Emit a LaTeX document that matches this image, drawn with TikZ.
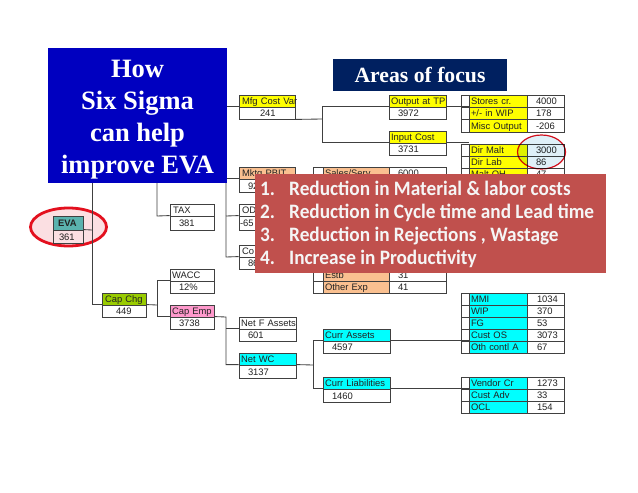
\documentclass[tikz,border=0pt]{standalone}
\usepackage{fontspec}
\usetikzlibrary{shapes.geometric}
\setmainfont{Liberation Sans}
\newfontfamily\titlefont{Liberation Serif}
\newfontfamily\listfont[FakeStretch=0.94]{Carlito}
\definecolor{cline}{HTML}{404040}
\definecolor{ctext}{HTML}{222222}
\definecolor{cyel}{HTML}{FFFF00}
\definecolor{corg}{HTML}{FAC090}
\definecolor{ccy}{HTML}{00FFFF}
\definecolor{cgrn}{HTML}{99CC00}
\definecolor{cpnk}{HTML}{FF99CC}
\definecolor{cteal}{HTML}{5AB2AE}
\definecolor{cblue}{HTML}{0000C0}
\definecolor{cnavy}{HTML}{002060}
\definecolor{cred}{HTML}{C0504D}
\definecolor{cring}{HTML}{E3101E}
\definecolor{cpale}{HTML}{FBDFE2}
\definecolor{cice}{HTML}{DFF0F8}
\tikzset{
  cellbox/.style={draw=cline,line width=.85pt,inner xsep=0pt,inner ysep=0pt,text=ctext,
    font=\fontsize{9.4}{10}\selectfont,align=left,text height=7.5pt,text depth=.5pt},
  wire/.style={draw=cline,line width=.85pt},
  titlebox/.style={text=white,font=\titlefont\bfseries,align=center,inner sep=0pt},
  listitem/.style={text=white!96!black,font=\listfont\bfseries\fontsize{20.5}{24}\selectfont,anchor=base west,inner sep=0pt},
}
% name, x, y, w, h, fill, inset, text
\newcommand\cellat[8]{%
  \pgfmathsetmacro\cw{#4}\pgfmathsetmacro\cx{#2+#4/2}\pgfmathsetmacro\cy{#3+#5/2}%
  \node[cellbox,fill=#6,minimum height=#5pt,text width=\cw pt] (#1) at (\cx,\cy) {\hspace*{#7pt}\mbox{#8}};%
}
\begin{document}
\begin{tikzpicture}[x=1pt,y=-1pt]
\useasboundingbox (0,0) rectangle (638,493);
\fill[white] (0,0) rectangle (638,493);
% EVA, ring behind
\node[draw=cring,line width=2.8pt,fill=cpale,ellipse,minimum width=76pt,minimum height=38pt,inner sep=0pt] (ringA) at (68.5,227) {};
\cellat{evaL}{53}{216}{30}{14}{cteal}{5}{\textbf{EVA}}
\cellat{evaV}{53}{230}{30}{13}{cpale}{6}{361}
% second level
\cellat{taxL}{170}{204}{44}{12}{white}{3}{TAX}
\cellat{taxV}{170}{216}{44}{14}{white}{9}{381}
\cellat{waccL}{170}{269}{44}{12}{white}{2}{WACC}
\cellat{waccV}{170}{281}{44}{12}{white}{9}{12\%}
\cellat{chgL}{102}{293}{44}{12}{cgrn}{3}{Cap Chg}
\cellat{chgV}{102}{305}{44}{12}{white}{14}{449}
\cellat{empL}{170}{305}{44}{12}{cpnk}{2}{Cap Emp}
\cellat{empV}{170}{317}{44}{12}{white}{9}{3738}
% third level
\cellat{mfgL}{239}{95}{56}{12}{cyel}{3}{Mfg Cost Var}
\cellat{mfgV}{239}{107}{56}{12}{white}{21}{241}
\cellat{mktL}{239}{167}{56}{12}{corg}{3}{Mktg PBIT}
\cellat{mktV}{239}{179}{56}{13}{white}{9}{92}
\cellat{odL}{239}{204}{56}{12}{white}{3}{OD}
\cellat{odV}{239}{216}{56}{14}{white}{1}{-65}
\cellat{coL}{239}{245}{56}{12}{white}{3}{Co}
\cellat{coV}{239}{257}{56}{12}{white}{9}{86}
\cellat{nfaL}{239}{317}{57}{12}{white}{2}{Net F Assets}
\cellat{nfaV}{239}{329}{57}{12}{white}{9}{601}
\cellat{nwcL}{239}{353}{57}{12}{ccy}{2}{Net WC}
\cellat{nwcV}{239}{365}{57}{13}{white}{9}{3137}
% fourth level
\cellat{outL}{389}{95}{57}{12}{cyel}{2}{Output at TP}
\cellat{outV}{389}{107}{57}{12}{white}{9}{3972}
\cellat{inL}{389}{131}{57}{12}{cyel}{2}{Input Cost}
\cellat{inV}{389}{143}{57}{12}{white}{9}{3731}
\cellat{caL}{323}{329}{67}{12}{ccy}{2}{Curr Assets}
\cellat{caV}{323}{341}{67}{12}{white}{9}{4597}
\cellat{clL}{323}{377}{67}{12}{ccy}{2}{Curr Liabilities}
\cellat{clV}{323}{389}{67}{13}{white}{9}{1460}
% sales table
\cellat{s1A}{313}{167}{10}{12}{white}{0}{}
\cellat{s1L}{323}{167}{66}{12}{corg}{2}{Sales/Serv}
\cellat{s1V}{389}{167}{57}{12}{white}{9}{6000}
\cellat{s2A}{313}{269}{10}{12}{white}{0}{}
\cellat{s2L}{323}{269}{66}{12}{corg}{2}{Estb}
\cellat{s2V}{389}{269}{57}{12}{white}{9}{31}
\cellat{s3A}{313}{281}{10}{12}{white}{0}{}
\cellat{s3L}{323}{281}{66}{12}{corg}{2}{Other Exp}
\cellat{s3V}{389}{281}{57}{12}{white}{9}{41}
% stores table
\cellat{a1A}{461}{95}{8}{12}{white}{0}{}
\cellat{a1L}{469}{95}{58}{12}{cyel}{2}{Stores cr.}
\cellat{a1V}{527}{95}{37}{12}{white}{9}{4000}
\cellat{a2A}{461}{107}{8}{12}{white}{0}{}
\cellat{a2L}{469}{107}{58}{12}{cyel}{2}{+/- in WIP}
\cellat{a2V}{527}{107}{37}{12}{white}{9}{178}
\cellat{a3A}{461}{119}{8}{13}{white}{0}{}
\cellat{a3L}{469}{119}{58}{13}{cyel}{2}{Misc Output}
\cellat{a3V}{527}{119}{37}{13}{white}{9}{-206}
% material table
\cellat{b1A}{461}{144}{8}{12}{white}{0}{}
\cellat{b1L}{469}{144}{58}{12}{cyel}{2}{Dir Malt}
\cellat{b1V}{527}{144}{37}{12}{white}{9}{3000}
\cellat{b2A}{461}{156}{8}{12}{white}{0}{}
\cellat{b2L}{469}{156}{58}{12}{cyel}{2}{Dir Lab}
\cellat{b2V}{527}{156}{37}{12}{white}{9}{86}
\cellat{b3A}{461}{168}{8}{12}{white}{0}{}
\cellat{b3L}{469}{168}{58}{12}{cyel}{2}{Malt OH}
\cellat{b3V}{527}{168}{37}{12}{white}{9}{47}
% MMI table
\cellat{c1A}{461}{293}{8}{12}{white}{0}{}
\cellat{c1L}{469}{293}{58}{12}{ccy}{2}{MMI}
\cellat{c1V}{527}{293}{37}{12}{white}{10}{1034}
\cellat{c2A}{461}{305}{8}{12}{white}{0}{}
\cellat{c2L}{469}{305}{58}{12}{ccy}{2}{WIP}
\cellat{c2V}{527}{305}{37}{12}{white}{10}{370}
\cellat{c3A}{461}{317}{8}{12}{white}{0}{}
\cellat{c3L}{469}{317}{58}{12}{ccy}{2}{FG}
\cellat{c3V}{527}{317}{37}{12}{white}{10}{53}
\cellat{c4A}{461}{329}{8}{12}{white}{0}{}
\cellat{c4L}{469}{329}{58}{12}{ccy}{2}{Cust OS}
\cellat{c4V}{527}{329}{37}{12}{white}{10}{3073}
\cellat{c5A}{461}{341}{8}{12}{white}{0}{}
\cellat{c5L}{469}{341}{58}{12}{ccy}{2}{Oth contl A}
\cellat{c5V}{527}{341}{37}{12}{white}{10}{67}
% vendor table
\cellat{d1A}{461}{377}{8}{12}{white}{0}{}
\cellat{d1L}{469}{377}{58}{12}{ccy}{2}{Vendor Cr}
\cellat{d1V}{527}{377}{37}{12}{white}{10}{1273}
\cellat{d2A}{461}{389}{8}{12}{white}{0}{}
\cellat{d2L}{469}{389}{58}{12}{ccy}{2}{Cust Adv}
\cellat{d2V}{527}{389}{37}{12}{white}{10}{33}
\cellat{d3A}{461}{401}{8}{12}{white}{0}{}
\cellat{d3L}{469}{401}{58}{12}{ccy}{2}{OCL}
\cellat{d3V}{527}{401}{37}{12}{white}{10}{154}
% title boxes
\node[titlebox,fill=cblue,minimum width=179pt,minimum height=135pt] (howbox) at (137.5,115.5) {};
\node[titlebox,font=\titlefont\bfseries\fontsize{26.5}{32}\selectfont] (howtext) at (137.5,119.5) {How\\Six Sigma\\can help\\improve EVA};
\node[titlebox,fill=cnavy,minimum width=174pt,minimum height=32pt,font=\titlefont\bfseries\fontsize{21.7}{24}\selectfont] (focus) at (420,75) {Areas of focus};
% connectors
\coordinate (jA) at (92,230);
\coordinate (jB) at (157,216);
\coordinate (jC) at (157,305);
\coordinate (jD) at (226,317);
\coordinate (jE) at (226,216);
\coordinate (jF) at (226,257);
\coordinate (jG) at (313,365);
\coordinate (jH) at (322,119);
\draw[wire] (evaV.north east) -- (jA);
\draw[wire] (howbox.south -| jA) -- (jA |- chgV.north) -- (chgV.north west);
\draw[wire] (howbox.south -| jB) -- (jB) -- (taxV.north west);
\draw[wire] (chgV.north east) -- (jC);
\draw[wire] (waccV.north west) -- (waccV.north west -| jC) -- (empV.north west -| jC) -- (empV.north west);
\draw[wire] (empV.north east) -- (jD) -- (jD |- nwcV.north) -- (nwcV.north west);
\draw[wire] (nfaV.north west) -- (nfaV.north west -| jD);
\draw[wire] (howbox.south -| jF) -- (jF) -- (coV.north west);
\draw[wire] (jE) -- (odV.north west);
\draw[wire] (mktV.north west -| howbox.east) -- (mktV.north west);
\draw[wire] (mfgV.north west -| howbox.east) -- (mfgV.north west);
\draw[wire] (mfgV.south east) -- (jH);
\draw[wire] (outV.north west) -- (outV.north west -| jH) -- (inV.north west -| jH) -- (inV.north west);
\draw[wire] (outV.north east) -- (a2A.north east);
\draw[wire] (inV.north east) -- (inV.north east -| b1A.east);
\draw[wire] (nwcV.north east) -- (jG);
\draw[wire] (caV.north west) -- (caV.north west -| jG) -- (clV.north west -| jG) -- (clV.north west);
\draw[wire] (caV.north east) -- (c5A.north east);
\draw[wire] (clV.north east) -- (d2A.north east);
% highlight ring over the figures
\begin{scope}[blend mode=multiply]
\node[draw=cring,line width=1.2pt,fill=cice,ellipse,minimum width=48pt,minimum height=34pt,inner sep=0pt] (ringB) at (541.5,152) {};
\end{scope}
% list banner
\node[fill=cred,minimum width=351pt,minimum height=99pt,inner sep=0pt] (banner) at (430.5,223.5) {};
\node[listitem] (n1) at (260,195) {1.};
\node[listitem] (n2) at (260,218) {2.};
\node[listitem] (n3) at (260,241) {3.};
\node[listitem] (n4) at (260,264) {4.};
\node[listitem] (t1) at (289,195) {Reduction in Material \& labor costs};
\node[listitem] (t2) at (289,218) {Reduction in Cycle time and Lead time};
\node[listitem] (t3) at (289,241) {Reduction in Rejections , Wastage};
\node[listitem] (t4) at (289,264) {Increase in Productivity};
\end{tikzpicture}
\end{document}
